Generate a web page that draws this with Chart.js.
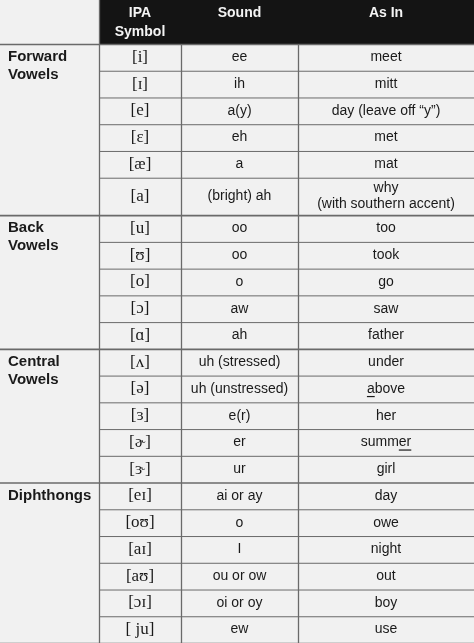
<!DOCTYPE html>
<html><head><meta charset="utf-8">
<script src="https://cdn.jsdelivr.net/npm/chart.js@4"></script>
<style>html,body{margin:0;padding:0;background:#f1f1f1}#wrap{width:474px;height:643px}</style>
</head><body><div id="wrap"><canvas id="c"></canvas></div>
<script>
var headers = ['IPA\nSymbol', 'Sound', 'As In'];
var groups = ['Forward\nVowels', 'Back\nVowels', 'Central\nVowels', 'Diphthongs'];
var groupSizes = [6, 5, 5, 6];
var symbols = ['[i]', '[ɪ]', '[e]', '[ɛ]', '[æ]', '[a]', '[u]', '[ʊ]', '[o]', '[ɔ]', '[ɑ]',
    '[ʌ]', '[ə]', '[ɜ]', '[ɚ]', '[ɝ]', '[eɪ]', '[oʊ]', '[aɪ]', '[aʊ]', '[ɔɪ]', '[ ju]'];
var sounds = ['ee', 'ih', 'a(y)', 'eh', 'a', '(bright) ah', 'oo', 'oo', 'o', 'aw', 'ah',
    'uh (stressed)', 'uh (unstressed)', 'e(r)', 'er', 'ur', 'ai or ay', 'o', 'I', 'ou or ow', 'oi or oy', 'ew'];
var asIn = ['meet', 'mitt', 'day (leave off “y”)', 'met', 'mat', 'why\n(with southern accent)',
    'too', 'took', 'go', 'saw', 'father', 'under', 'above', 'her', 'summer', 'girl',
    'day', 'owe', 'night', 'out', 'boy', 'use'];
// underlined part of the example word: [row, start, end]
var underlines = [[12, 0, 1], [14, 4, 6]];
var rowUnits = [1, 1, 1, 1, 1, 1.4, 1, 1, 1, 1, 1, 1, 1, 1, 1, 1, 1, 1, 1, 1, 1, 1];

var colEdges = [0, 99, 181, 298, 474];
var headerH = 44;

var tablePlugin = {
    id: 'table',
    afterDraw: function (chart) {
        var ctx = chart.ctx, sx = chart.scales.x, sy = chart.scales.y;
        var X = function (v) { return sx.getPixelForValue(v); };
        var Y = function (v) { return sy.getPixelForValue(v); };
        var totalUnits = rowUnits.reduce(function (a, b) { return a + b; }, 0);
        var unit = (643 - headerH) / totalUnits;
        var rowTop = [headerH];
        rowUnits.forEach(function (u, i) { rowTop.push(rowTop[i] + u * unit); });

        ctx.save();
        ctx.fillStyle = '#141414';
        ctx.fillRect(X(colEdges[1]), Y(0), X(474) - X(colEdges[1]), Y(headerH) - Y(0));
        ctx.textAlign = 'center';
        ctx.textBaseline = 'middle';
        ctx.fillStyle = '#f4f4f4';
        ctx.font = 'bold 14px "Liberation Sans", Arial, sans-serif';
        headers.forEach(function (h, i) {
            var cx = (X(colEdges[i + 1]) + X(colEdges[i + 2])) / 2;
            var lines = h.split('\n');
            lines.forEach(function (l, k) {
                ctx.fillText(l, cx, Y(13 + k * 19));
            });
        });

        // grid
        ctx.strokeStyle = '#6a6a6a';
        ctx.lineWidth = 1;
        var groupStart = [0];
        groupSizes.forEach(function (s, i) { groupStart.push(groupStart[i] + s); });
        for (var r = 0; r <= rowUnits.length; r++) {
            var isGroup = groupStart.indexOf(r) >= 0;
            ctx.lineWidth = isGroup ? 1.6 : 1;
            ctx.beginPath();
            ctx.moveTo(X(isGroup ? 0 : colEdges[1]), Y(rowTop[r]) + 0.5);
            ctx.lineTo(X(474), Y(rowTop[r]) + 0.5);
            ctx.stroke();
        }
        ctx.lineWidth = 1.3;
        [1, 2, 3].forEach(function (c) {
            ctx.beginPath();
            ctx.moveTo(X(colEdges[c]) + 0.5, Y(c === 1 ? 0 : headerH));
            ctx.lineTo(X(colEdges[c]) + 0.5, Y(643));
            ctx.stroke();
        });

        // group labels
        ctx.fillStyle = '#1a1a1a';
        ctx.textAlign = 'left';
        ctx.font = 'bold 15px "Liberation Sans", Arial, sans-serif';
        groups.forEach(function (g, i) {
            g.split('\n').forEach(function (l, k) {
                ctx.fillText(l, X(8), Y(rowTop[groupStart[i]] + 13 + k * 18));
            });
        });

        // cells
        ctx.textAlign = 'center';
        symbols.forEach(function (s, r) {
            var cy = Y((rowTop[r] + rowTop[r + 1]) / 2);
            ctx.font = '17px "Liberation Serif", "DejaVu Serif", serif';
            ctx.fillText(s, (X(colEdges[1]) + X(colEdges[2])) / 2, cy);
            ctx.font = '14px "Liberation Sans", Arial, sans-serif';
            ctx.fillText(sounds[r], (X(colEdges[2]) + X(colEdges[3])) / 2, cy);
            var cx = (X(colEdges[3]) + X(colEdges[4])) / 2;
            var lines = asIn[r].split('\n');
            lines.forEach(function (l, k) {
                ctx.fillText(l, cx, cy + (k - (lines.length - 1) / 2) * 16);
            });
            underlines.forEach(function (u) {
                if (u[0] !== r) return;
                var w = ctx.measureText(asIn[r]).width;
                var x0 = cx - w / 2 + ctx.measureText(asIn[r].slice(0, u[1])).width;
                var x1 = cx - w / 2 + ctx.measureText(asIn[r].slice(0, u[2])).width;
                ctx.fillRect(x0, cy + 7, x1 - x0, 1.2);
            });
        });
        ctx.restore();
    }
};

new Chart(document.getElementById('c'), {
    type: 'scatter',
    data: { datasets: [{ data: [] }] },
    options: {
        responsive: true,
        maintainAspectRatio: false,
        animation: false,
        layout: { padding: 0 },
        scales: {
            x: { type: 'linear', min: 0, max: 474, display: false },
            y: { type: 'linear', min: 0, max: 643, reverse: true, display: false }
        },
        plugins: { legend: { display: false }, tooltip: { enabled: false } }
    },
    plugins: [tablePlugin]
});
</script></body></html>
